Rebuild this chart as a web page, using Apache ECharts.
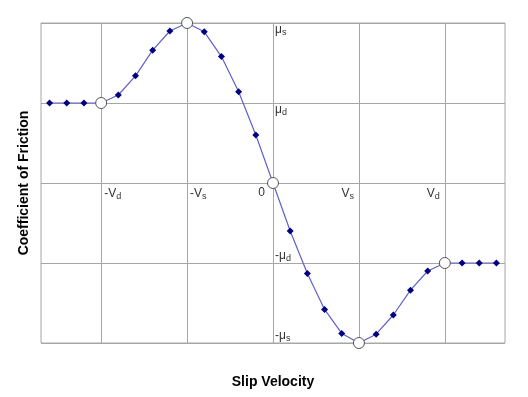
<!DOCTYPE html>
<html>
<head>
<meta charset="utf-8">
<style>
html, body { margin: 0; padding: 0; background: #fff; }
#chart { width: 528px; height: 397px; }
</style>
<script src="https://cdn.jsdelivr.net/npm/echarts@6/dist/echarts.min.js"></script>
</head>
<body>
<div id="chart"></div>
<script>
// slip velocity (Vs = 1, Vd = 2) and friction coefficient (mu_s = 1, mu_d = 0.5)
var velocity = [-2.6, -2.4, -2.2, -2.0, -1.8, -1.6, -1.4, -1.2, -1.0, -0.8, -0.6, -0.4, -0.2, 0,
	0.2, 0.4, 0.6, 0.8, 1.0, 1.2, 1.4, 1.6, 1.8, 2.0, 2.2, 2.4, 2.6];
var friction = [0.5, 0.5, 0.5, 0.5, 0.55, 0.67, 0.83, 0.95, 1.0, 0.945, 0.79, 0.57, 0.30, 0,
	-0.30, -0.565, -0.79, -0.94, -1.0, -0.945, -0.825, -0.67, -0.55, -0.5, -0.5, -0.5, -0.5];

// open circles at the named points
var keyVelocity = [-2, -1, 0, 1, 2];
var keyFriction = [0.5, 1, 0, -1, -0.5];

// tick labels: [main text, subscript]
var velocityTicks = [-2, -1, 0, 1, 2];
var velocityLabels = [['-V', 'd'], ['-V', 's'], ['0', ''], ['V', 's'], ['V', 'd']];
var frictionTicks = [-1, -0.5, 0, 0.5, 1];
var frictionLabels = [['-\u03bc', 's'], ['-\u03bc', 'd'], ['', ''], ['\u03bc', 'd'], ['\u03bc', 's']];

var font = 'Liberation Sans, Arial, sans-serif';
var gridColor = '#a6a6a6';

var W = 528, H = 397;
var grid = { left: 41, right: 23, top: 23, bottom: 54 };
var xMin = -2.7, xMax = 2.7;
var yMin = -1, yMax = 1;

// the label axes sit on the zero lines, so shift them in from the grid edges
var plotW = W - grid.left - grid.right;
var plotH = H - grid.top - grid.bottom;
var xZeroShift = -plotH * (0 - yMin) / (yMax - yMin);
var yZeroShift = -plotW * (0 - xMin) / (xMax - xMin);

var labelRich = {
	m: { fontFamily: font, fontSize: 12, color: '#333' },
	o: { fontFamily: font, fontSize: 12, color: '#333', padding: [0, 3, 0, 0] },
	s: { fontFamily: font, fontSize: 9, color: '#333', padding: [5, 0, 0, 0] }
};

function makeFormatter(ticks, labels, keep) {
	return function (val) {
		var i = ticks.indexOf(Math.round(val * 100) / 100);
		if (i < 0 || keep.indexOf(ticks[i]) < 0) return '';
		var l = labels[i];
		if (!l[1]) return '{o|' + l[0] + '}';
		return '{m|' + l[0] + '}{s|' + l[1] + '}';
	};
}

function labelX(keep, align, pad) {
	return {
		type: 'value', min: xMin, max: xMax, position: 'bottom', offset: xZeroShift,
		axisLine: { show: false, onZero: false },
		axisTick: { show: false, customValues: keep },
		splitLine: { show: false },
		axisLabel: {
			customValues: keep, align: align, margin: 4, padding: pad,
			formatter: makeFormatter(velocityTicks, velocityLabels, keep), rich: labelRich
		}
	};
}

function labelY(keep, vAlign) {
	return {
		type: 'value', min: yMin, max: yMax, interval: 0.5, position: 'left', offset: yZeroShift,
		axisLine: { show: false, onZero: false },
		axisTick: { show: false },
		splitLine: { show: false },
		axisLabel: {
			inside: true, verticalAlign: vAlign, margin: 2,
			formatter: makeFormatter(frictionTicks, frictionLabels, keep), rich: labelRich
		}
	};
}

var chart = echarts.init(document.getElementById('chart'));
chart.setOption({
	animation: false,
	grid: {
		left: grid.left, right: grid.right, top: grid.top, bottom: grid.bottom,
		show: true, borderColor: gridColor, borderWidth: 1
	},
	xAxis: [
		{
			type: 'value', min: xMin, max: xMax, position: 'bottom',
			axisLine: { show: false, onZero: false },
			axisTick: { show: false, customValues: velocityTicks },
			axisLabel: { show: false },
			splitLine: { show: true, lineStyle: { color: gridColor, width: 1 } },
			name: 'Slip Velocity', nameLocation: 'middle', nameGap: 32,
			nameTextStyle: { fontFamily: font, fontSize: 14, fontWeight: 'bold', color: '#000' }
		},
		labelX([-2, -1], 'left', [0, 0, 0, 3]),
		labelX([0, 1, 2], 'right', [0, 5, 0, 0])
	],
	yAxis: [
		{
			type: 'value', min: yMin, max: yMax, interval: 0.5, position: 'left',
			axisLine: { show: false, onZero: false },
			axisTick: { show: false },
			axisLabel: { show: false },
			splitLine: { show: true, lineStyle: { color: gridColor, width: 1 } },
			name: 'Coefficient of Friction', nameLocation: 'middle', nameGap: 10,
			nameTextStyle: { fontFamily: font, fontSize: 14, fontWeight: 'bold', color: '#000' }
		},
		labelY([0.5, 1], 'top'),
		labelY([-1, -0.5], 'bottom')
	],
	series: [
		{
			type: 'line',
			xAxisIndex: 0, yAxisIndex: 0,
			data: velocity.map(function (v, i) { return [v, friction[i]]; }),
			symbol: 'diamond', symbolSize: 7,
			lineStyle: { color: '#6060c8', width: 1.2 },
			itemStyle: { color: '#000080' },
			z: 3
		},
		{
			type: 'scatter',
			xAxisIndex: 0, yAxisIndex: 0,
			data: keyVelocity.map(function (v, i) { return [v, keyFriction[i]]; }),
			symbol: 'circle', symbolSize: 11,
			itemStyle: { color: '#fff', borderColor: '#555', borderWidth: 1, opacity: 1 },
			z: 4
		}
	]
});
</script>
</body>
</html>
